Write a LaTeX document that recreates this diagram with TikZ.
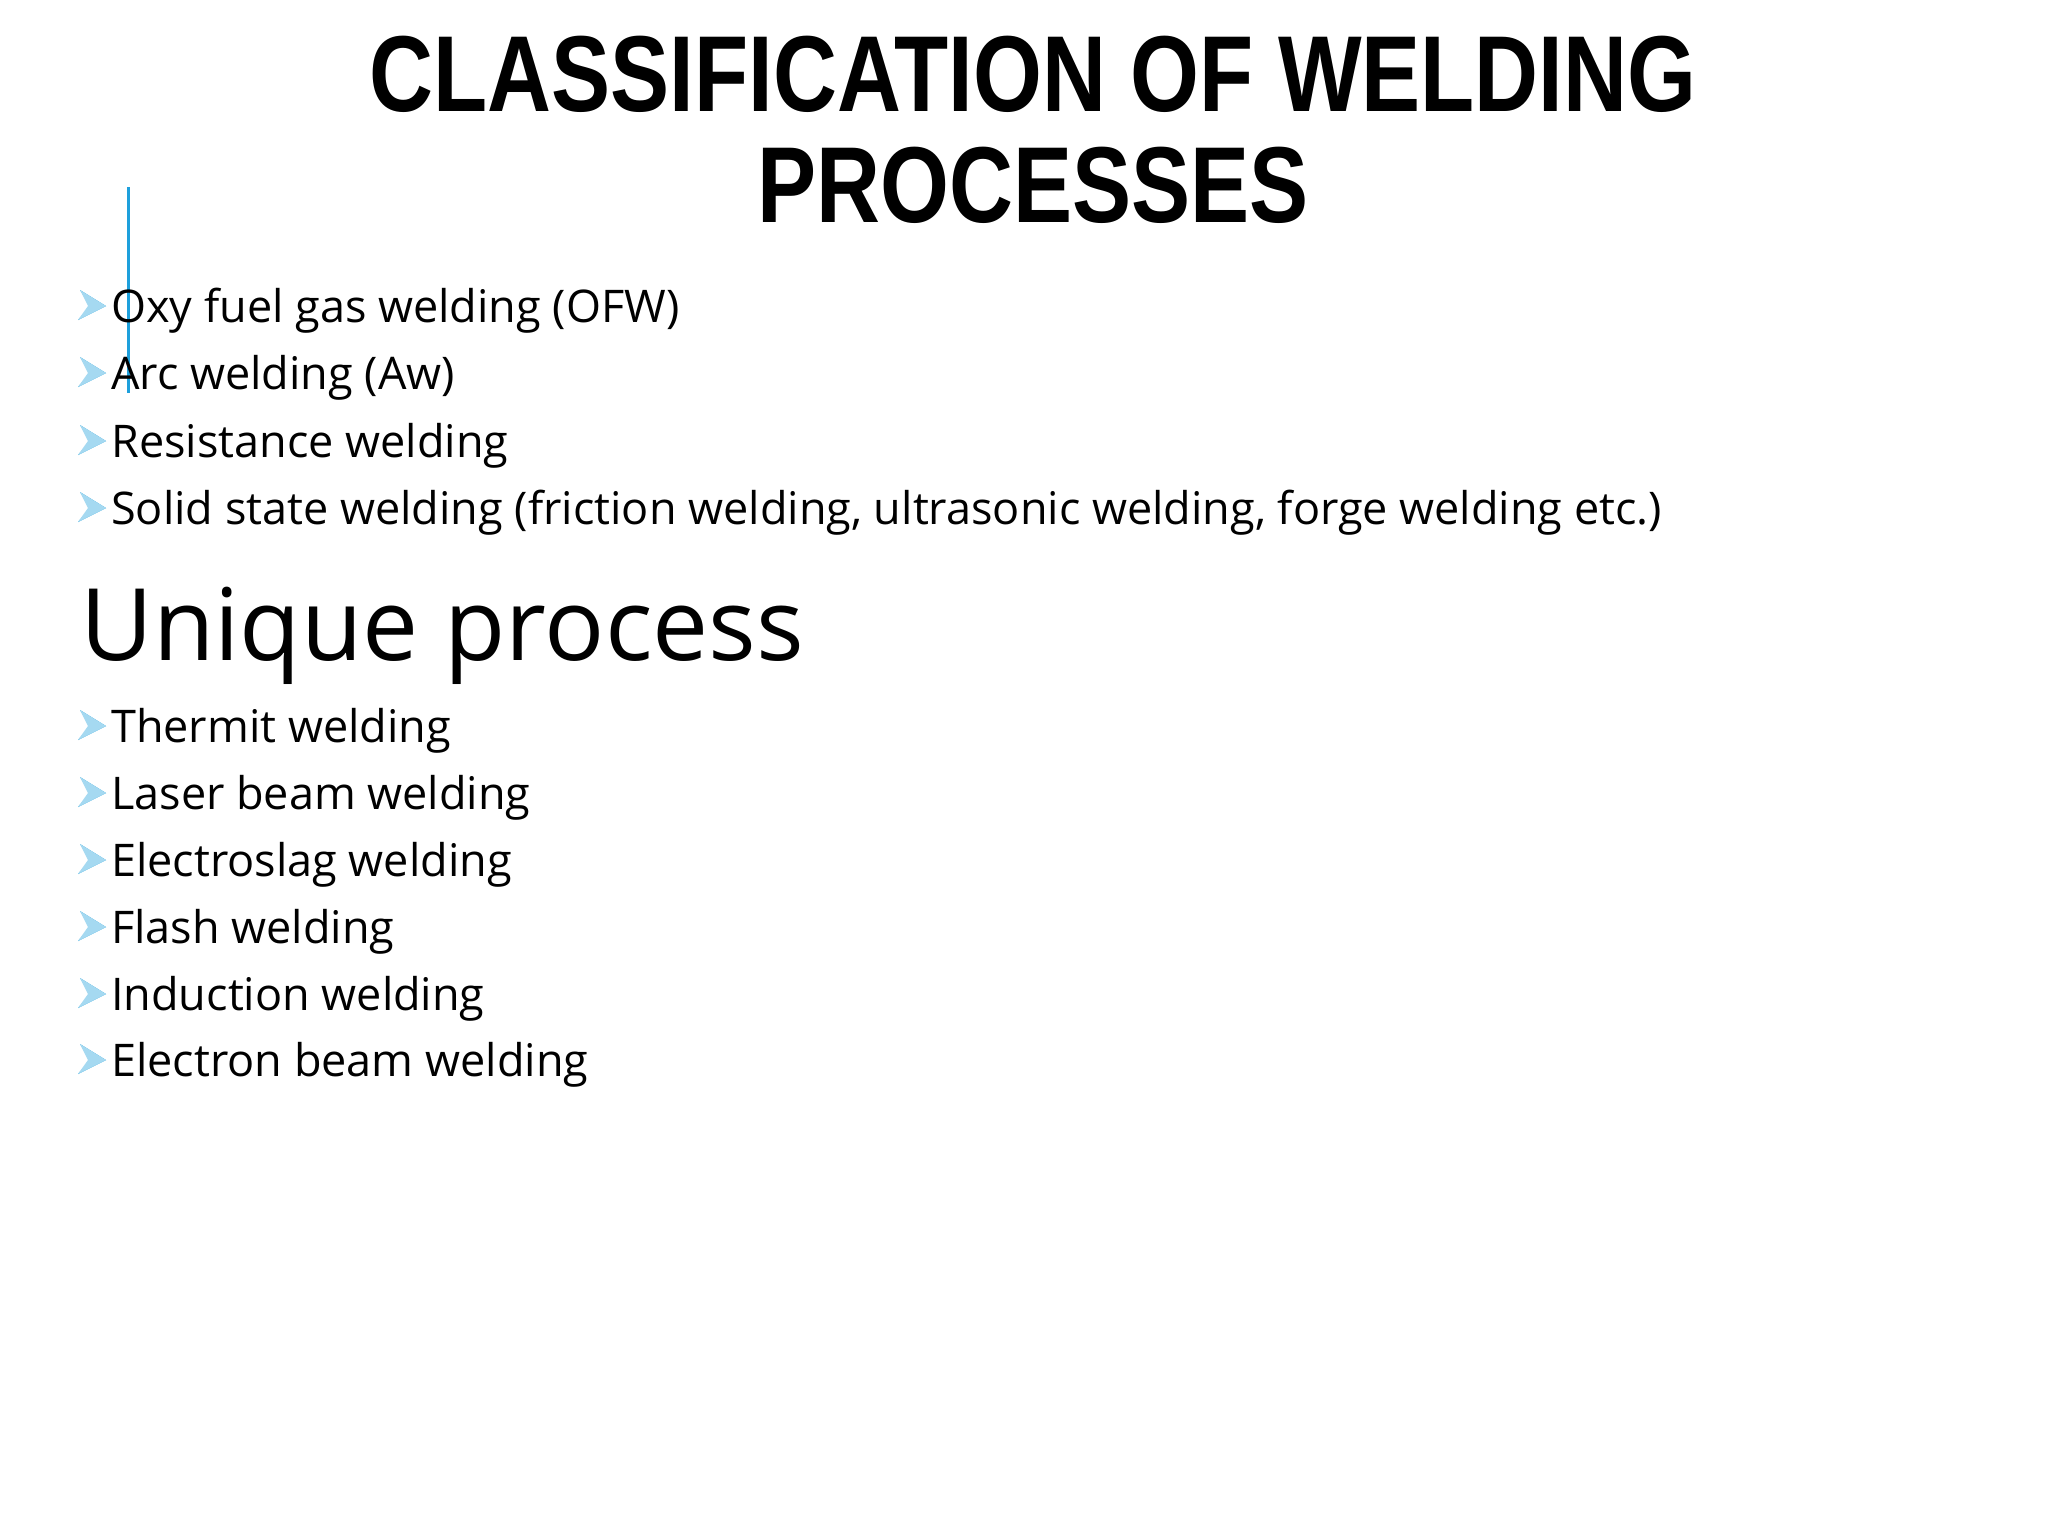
\documentclass[tikz,border=0pt]{standalone}
\usepackage{fontspec}
\setmainfont{Open Sans}
\newfontfamily\titlefont[FakeStretch=0.82]{Liberation Sans Bold}
\definecolor{bl}{RGB}{30,160,220}
\begin{document}
\begin{tikzpicture}[x=1pt,y=-1pt,
  itm/.style={anchor=base west,inner sep=0,font=\fontsize{45}{54}\selectfont},
  ttl/.style={anchor=base,inner sep=0,font=\titlefont\fontsize{108}{120}\selectfont}]
\useasboundingbox (0,0) rectangle (2048,1536);
\fill[white] (0,0) rectangle (2048,1536);
\node[ttl] (t1) at (1033,112) {CLASSIFICATION OF WELDING};
\node[ttl] (t2) at (1033,222) {PROCESSES};
\draw[bl,line width=3] (128,187) -- (128,393);
\def\bul#1{\fill[bl] (#1) ++(-33,-2) -- ++(28,-14) -- ++(-26,-16) -- ++(10,16) -- cycle;
  \fill[bl!40] (#1) ++(-33,-2) -- ++(10,-14) -- ++(-8,-16) -- ++(26,16) -- cycle;}
\foreach \y/\t [count=\i] in {322/Oxy fuel gas welding (OFW),389/Arc welding (Aw),457/Resistance welding,524/{Solid state welding (friction welding, ultrasonic welding, forge welding etc.)}}{
  \node[itm] (a\i) at (111,\y) {\t};
  \bul{a\i.base west}
}
\node[anchor=base west,inner sep=0,font=\fontsize{100}{110}\selectfont] (u) at (80,660) {Unique process};
\foreach \y/\t [count=\i] in {742/Thermit welding,809/Laser beam welding,876/Electroslag welding,943/Flash welding,1010/Induction welding,1076/Electron beam welding}{
  \node[itm] (b\i) at (111,\y) {\t};
  \bul{b\i.base west}
}
\end{tikzpicture}
\end{document}
